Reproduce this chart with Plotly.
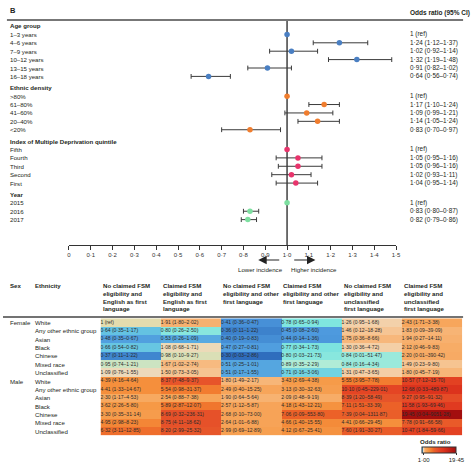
import plotly.graph_objects as go

W, H = 474, 467
FONT = "Liberation Sans, Arial, sans-serif"
TXT = "#231f20"
FS = 6.1  # label font size

# ---------------- Forest plot data ----------------
group_titles = ["Age group", "Ethnic density", "Index of Multiple Deprivation quintile", "Year"]
group_labels = [
    ["1–3 years", "4–6 years", "7–9 years", "10–12 years", "13–15 years", "16–18 years"],
    [">80%", "61–80%", "41–60%", "20–40%", "<20%"],
    ["Fifth", "Fourth", "Third", "Second", "First"],
    ["2015", "2016", "2017"],
]
group_or = [
    [1, 1.24, 1.02, 1.32, 0.91, 0.64],
    [1, 1.17, 1.09, 1.14, 0.83],
    [1, 1.05, 1.05, 1.02, 1.04],
    [1, 0.83, 0.82],
]
group_lo = [
    [None, 1.12, 0.92, 1.19, 0.82, 0.56],
    [None, 1.10, 0.99, 1.05, 0.70],
    [None, 0.95, 0.96, 0.93, 0.95],
    [None, 0.80, 0.79],
]
group_hi = [
    [None, 1.37, 1.14, 1.48, 1.02, 0.74],
    [None, 1.24, 1.21, 1.24, 0.97],
    [None, 1.16, 1.16, 1.11, 1.14],
    [None, 0.87, 0.86],
]
group_colors = ["#4a7fc2", "#f07d2e", "#e8346c", "#7ddfa0"]
x_ticks = [0, 0.1, 0.2, 0.3, 0.4, 0.5, 0.6, 0.7, 0.8, 0.9, 1.0, 1.1, 1.2, 1.3, 1.4, 1.5]

# ---------------- Table data ----------------
sexes = ["Female", "Male"]
ethnicities = ["White", "Any other ethnic group", "Asian", "Black", "Chinese", "Mixed race", "Unclassified"]
col_headers = [
    ["No claimed FSM", "eligibility and", "English as first", "language"],
    ["Claimed FSM", "eligibility and", "English as first", "language"],
    ["No claimed FSM", "eligibility and other", "first language"],
    ["Claimed FSM", "eligibility and other", "first language"],
    ["No claimed FSM", "eligibility and", "unclassified", "first language"],
    ["Claimed FSM", "eligibility and", "unclassified", "first language"],
]
tbl_or = [
    [1, 1.91, 0.41, 0.78, 1.26, 2.43],
    [0.64, 0.80, 0.36, 0.45, 1.46, 1.83],
    [0.48, 0.53, 0.40, 0.44, 1.75, 1.94],
    [0.66, 1.08, 0.47, 0.77, 1.30, 2.12],
    [0.37, 0.98, 0.30, 0.80, 0.84, 2.20],
    [0.95, 1.67, 0.51, 0.89, 0.84, 1.49],
    [1.09, 1.50, 0.51, 0.71, 1.31, 1.80],
    [4.39, 8.37, 1.80, 3.43, 5.55, 10.57],
    [4.41, 5.54, 2.49, 3.13, 10.10, 12.68],
    [2.30, 2.54, 1.90, 2.09, 8.39, 9.27],
    [3.62, 5.89, 2.57, 4.18, 7.11, 11.58],
    [3.30, 8.69, 2.68, 7.06, 7.39, 19.45],
    [4.95, 8.75, 2.64, 4.66, 4.41, 7.78],
    [6.32, 8.20, 2.99, 4.12, 7.60, 10.47],
]
tbl_lo = [
    [None, 1.80, 0.36, 0.65, 0.95, 1.71],
    [0.35, 0.26, 0.11, 0.08, 0.12, 0.09],
    [0.35, 0.26, 0.19, 0.14, 0.36, 0.27],
    [0.54, 0.68, 0.27, 0.34, 0.36, 0.46],
    [0.11, 0.10, 0.03, 0.03, 0.01, 0.01],
    [0.74, 1.02, 0.25, 0.35, 0.16, 0.23],
    [0.76, 0.73, 0.17, 0.16, 0.47, 0.45],
    [4.16, 7.48, 1.49, 2.69, 3.95, 7.12],
    [1.33, 0.98, 0.40, 0.30, 0.45, 0.33],
    [1.17, 0.88, 0.64, 0.48, 1.20, 0.95],
    [2.26, 2.87, 1.12, 1.43, 1.51, 1.93],
    [0.35, 0.32, 0.10, 0.09, 0.04, 0.04],
    [2.98, 4.11, 1.01, 1.40, 0.66, 0.91],
    [3.11, 2.99, 0.69, 0.67, 1.91, 1.84],
]
tbl_hi = [
    [None, 2.02, 0.47, 0.94, 1.68, 3.38],
    [1.17, 2.50, 1.22, 2.60, 18.28, 39.09],
    [0.67, 1.09, 0.83, 1.36, 8.66, 14.11],
    [0.82, 1.71, 0.81, 1.73, 4.72, 9.83],
    [1.22, 9.27, 2.86, 21.73, 51.47, 390.42],
    [1.21, 2.74, 1.01, 2.29, 4.34, 9.80],
    [1.55, 3.05, 1.55, 3.06, 3.65, 7.19],
    [4.64, 9.37, 2.17, 4.38, 7.78, 15.70],
    [14.67, 31.37, 15.25, 32.63, 229.01, 489.87],
    [4.53, 7.38, 5.64, 9.19, 58.49, 91.32],
    [5.80, 12.07, 5.87, 12.21, 33.39, 69.46],
    [31.14, 236.31, 73.00, 553.80, 1311.87, 9051.28],
    [8.23, 18.62, 6.88, 15.55, 29.45, 66.58],
    [12.85, 25.32, 12.89, 25.41, 30.27, 59.66],
]
cb_tickvals = [1.00, 19.45]

# colour scale anchors (odds ratio value -> colour)
cs_values = [0.30, 0.37, 0.45, 0.55, 0.66, 0.78, 0.90, 1.0, 1.1, 1.3, 1.6, 2.0, 2.5, 3.5, 4.4, 5.5, 7.0, 8.5, 10.5, 12.7, 19.45]
cs_colors = ["#2f6dbd", "#3f86cf", "#4e9ade", "#59aee2", "#67c6e2", "#7fe6df", "#b4ecd6", "#e3dcae",
             "#eed9bb", "#f4cfa6", "#f7bd85", "#f7ae6a", "#f7a55a", "#f69a48", "#f58f3c", "#f27d30",
             "#ec6228", "#e6532a", "#e34122", "#dc331d", "#a30e0e"]


def fmt(v):
    return f"{v:.2f}".replace(".", "·")


def or_text(v, lo, hi):
    if lo is None:
        return "1 (ref)"
    return f"{fmt(v)} ({fmt(lo)}–{fmt(hi)})"


def py(p):  # pixel -> paper y
    return (H - p) / H


def px(p):
    return p / W


fig = go.Figure()
ann = []
shapes = []

# ---------------- Forest plot ----------------
GAP = 1.35
pos = 0.0
header_pos = []
row_pos = []
for gi, labels in enumerate(group_labels):
    header_pos.append(pos)
    rp = [pos + 1 + i for i in range(len(labels))]
    row_pos.append(rp)
    pos = rp[-1] + GAP

for gi in range(len(group_labels)):
    ors = group_or[gi]
    lo = group_lo[gi]
    hi = group_hi[gi]
    plus = [0 if h is None else h - v for v, h in zip(ors, hi)]
    minus = [0 if l is None else v - l for v, l in zip(ors, lo)]
    fig.add_trace(go.Scatter(
        x=ors, y=row_pos[gi], mode="markers",
        marker=dict(color=group_colors[gi], size=5.5),
        error_x=dict(type="data", symmetric=False, array=plus, arrayminus=minus,
                     color="#3a3a3a", thickness=1, width=2.4),
        xaxis="x", yaxis="y", hoverinfo="skip"))
    ann.append(dict(text=f"<b>{group_titles[gi]}</b>", x=px(6), xref="paper", y=header_pos[gi], yref="y",
                    xanchor="left", yanchor="middle", showarrow=False, font=dict(size=FS, color=TXT)))
    for lab, yy, v, l, h in zip(group_labels[gi], row_pos[gi], ors, lo, hi):
        ann.append(dict(text=lab, x=px(6), xref="paper", y=yy, yref="y", xanchor="left", yanchor="middle",
                        showarrow=False, font=dict(size=FS, color=TXT)))
        ann.append(dict(text=or_text(v, l, h), x=px(412), xref="paper", y=yy, yref="y", xanchor="left",
                        yanchor="middle", showarrow=False, font=dict(size=6.4, color=TXT)))

y_top = (20 - 26) / 8.4
y_bot = (245 - 26) / 8.4
shapes.append(dict(type="line", xref="x", yref="y", x0=1, x1=1, y0=y_top, y1=y_bot,
                   line=dict(color="#333333", width=1.4), layer="below"))
shapes.append(dict(type="line", xref="paper", yref="paper", x0=px(5), x1=px(468), y0=py(20), y1=py(20),
                   line=dict(color="#777777", width=2)))
ann.append(dict(text="<b>B</b>", x=px(6), xref="paper", y=py(10), yref="paper", xanchor="left",
                yanchor="middle", showarrow=False, font=dict(size=7.5, color=TXT)))
ann.append(dict(text="<b>Odds ratio (95% CI)</b>", x=px(412), xref="paper", y=py(13), yref="paper",
                xanchor="left", yanchor="middle", showarrow=False, font=dict(size=6.5, color=TXT)))

# arrows
ann.append(dict(text="", x=0.868, xref="x", y=py(260), yref="paper", ax=0.971, axref="x", ay=0, ayref="pixel",
                showarrow=True, arrowhead=2, arrowsize=1.4, arrowwidth=1.2, arrowcolor="#222"))
ann.append(dict(text="", x=1.13, xref="x", y=py(260), yref="paper", ax=1.026, axref="x", ay=0, ayref="pixel",
                showarrow=True, arrowhead=2, arrowsize=1.4, arrowwidth=1.2, arrowcolor="#222"))
ann.append(dict(text="Lower incidence", x=0.877, xref="x", y=py(269), yref="paper", xanchor="center",
                yanchor="middle", showarrow=False, font=dict(size=FS, color=TXT)))
ann.append(dict(text="Higher incidence", x=1.125, xref="x", y=py(269), yref="paper", xanchor="center",
                yanchor="middle", showarrow=False, font=dict(size=FS, color=TXT)))

# ---------------- Table heatmap ----------------
zmin, zmax = cs_values[0], cs_values[-1]
colorscale = [[(v - zmin) / (zmax - zmin), c] for v, c in zip(cs_values, cs_colors)]
nrows = len(tbl_or)
ncols = len(tbl_or[0])
fig.add_trace(go.Heatmap(
    z=tbl_or, x=list(range(ncols)), y=list(range(nrows)), colorscale=colorscale, zmin=zmin, zmax=zmax,
    xaxis="x2", yaxis="y2", hoverinfo="skip",
    colorbar=dict(orientation="h", x=px(444), xanchor="center", y=py(447), yanchor="top",
                  lenmode="pixels", len=34, thickness=6, xpad=0, ypad=0,
                  outlinewidth=1, outlinecolor="#333",
                  tickvals=cb_tickvals, ticktext=[fmt(v) for v in cb_tickvals],
                  ticks="outside", ticklen=2, tickcolor="#333",
                  tickfont=dict(size=6, color=TXT, family=FONT))))

cell_x, cell_y, cell_t = [], [], []
for r in range(nrows):
    for c in range(ncols):
        cell_x.append(c - 0.5)
        cell_y.append(r)
        cell_t.append(or_text(tbl_or[r][c], tbl_lo[r][c], tbl_hi[r][c]))
fig.add_trace(go.Scatter(x=cell_x, y=cell_y, mode="text", text=cell_t, textposition="middle right",
                         textfont=dict(size=5.0, color="#2a2a2a", family=FONT),
                         xaxis="x2", yaxis="y2", hoverinfo="skip"))

# table labels
for si, s in enumerate(sexes):
    base = si * len(ethnicities)
    ann.append(dict(text=s, x=px(6), xref="paper", y=base, yref="y2", xanchor="left", yanchor="middle",
                    showarrow=False, font=dict(size=FS, color=TXT)))
    for ei, e in enumerate(ethnicities):
        ann.append(dict(text=e, x=px(31), xref="paper", y=base + ei, yref="y2", xanchor="left",
                        yanchor="middle", showarrow=False, font=dict(size=FS, color=TXT)))

line_y = [285.7, 293.4, 301.1, 308.8]
ann.append(dict(text="<b>Sex</b>", x=px(6), xref="paper", y=py(line_y[0]), yref="paper", xanchor="left",
                yanchor="middle", showarrow=False, font=dict(size=FS, color=TXT)))
ann.append(dict(text="<b>Ethnicity</b>", x=px(31), xref="paper", y=py(line_y[0]), yref="paper",
                xanchor="left", yanchor="middle", showarrow=False, font=dict(size=FS, color=TXT)))
for c, lines in enumerate(col_headers):
    for li, t in enumerate(lines):
        ann.append(dict(text=f"<b>{t}</b>", x=c - 0.5, xref="x2", y=py(line_y[li]), yref="paper",
                        xanchor="left", yanchor="middle", showarrow=False, font=dict(size=FS, color=TXT)))
shapes.append(dict(type="line", xref="paper", yref="paper", x0=px(1), x1=px(468), y0=py(317), y1=py(317),
                   line=dict(color="#444444", width=1.3)))
ann.append(dict(text="<b>Odds ratio</b>", x=px(440), xref="paper", y=py(441), yref="paper",
                xanchor="center", yanchor="middle", showarrow=False, font=dict(size=FS, color=TXT)))

fig.update_layout(
    width=W, height=H, margin=dict(l=0, r=0, t=0, b=0),
    paper_bgcolor="white", plot_bgcolor="rgba(0,0,0,0)", showlegend=False,
    font=dict(family=FONT, color=TXT),
    xaxis=dict(domain=[px(68), px(400)], range=[0, 1.5], tickvals=x_ticks,
               ticktext=["0" if v == 0 else fmt(v)[:-1] for v in x_ticks],
               ticks="outside", ticklen=4, tickcolor="#333", showline=True, linecolor="#333", linewidth=1,
               showgrid=False, zeroline=False, anchor="y", tickfont=dict(size=6, color="#333")),
    yaxis=dict(domain=[py(245), py(20)], range=[y_bot, y_top], visible=False),
    xaxis2=dict(domain=[px(100), px(467)], range=[-0.5, ncols - 0.5], visible=False, anchor="y2"),
    yaxis2=dict(domain=[py(435.4), py(318.3)], range=[nrows - 0.5, -0.5], visible=False, anchor="x2"),
    annotations=ann, shapes=shapes,
)

fig.write_html("out.html")
